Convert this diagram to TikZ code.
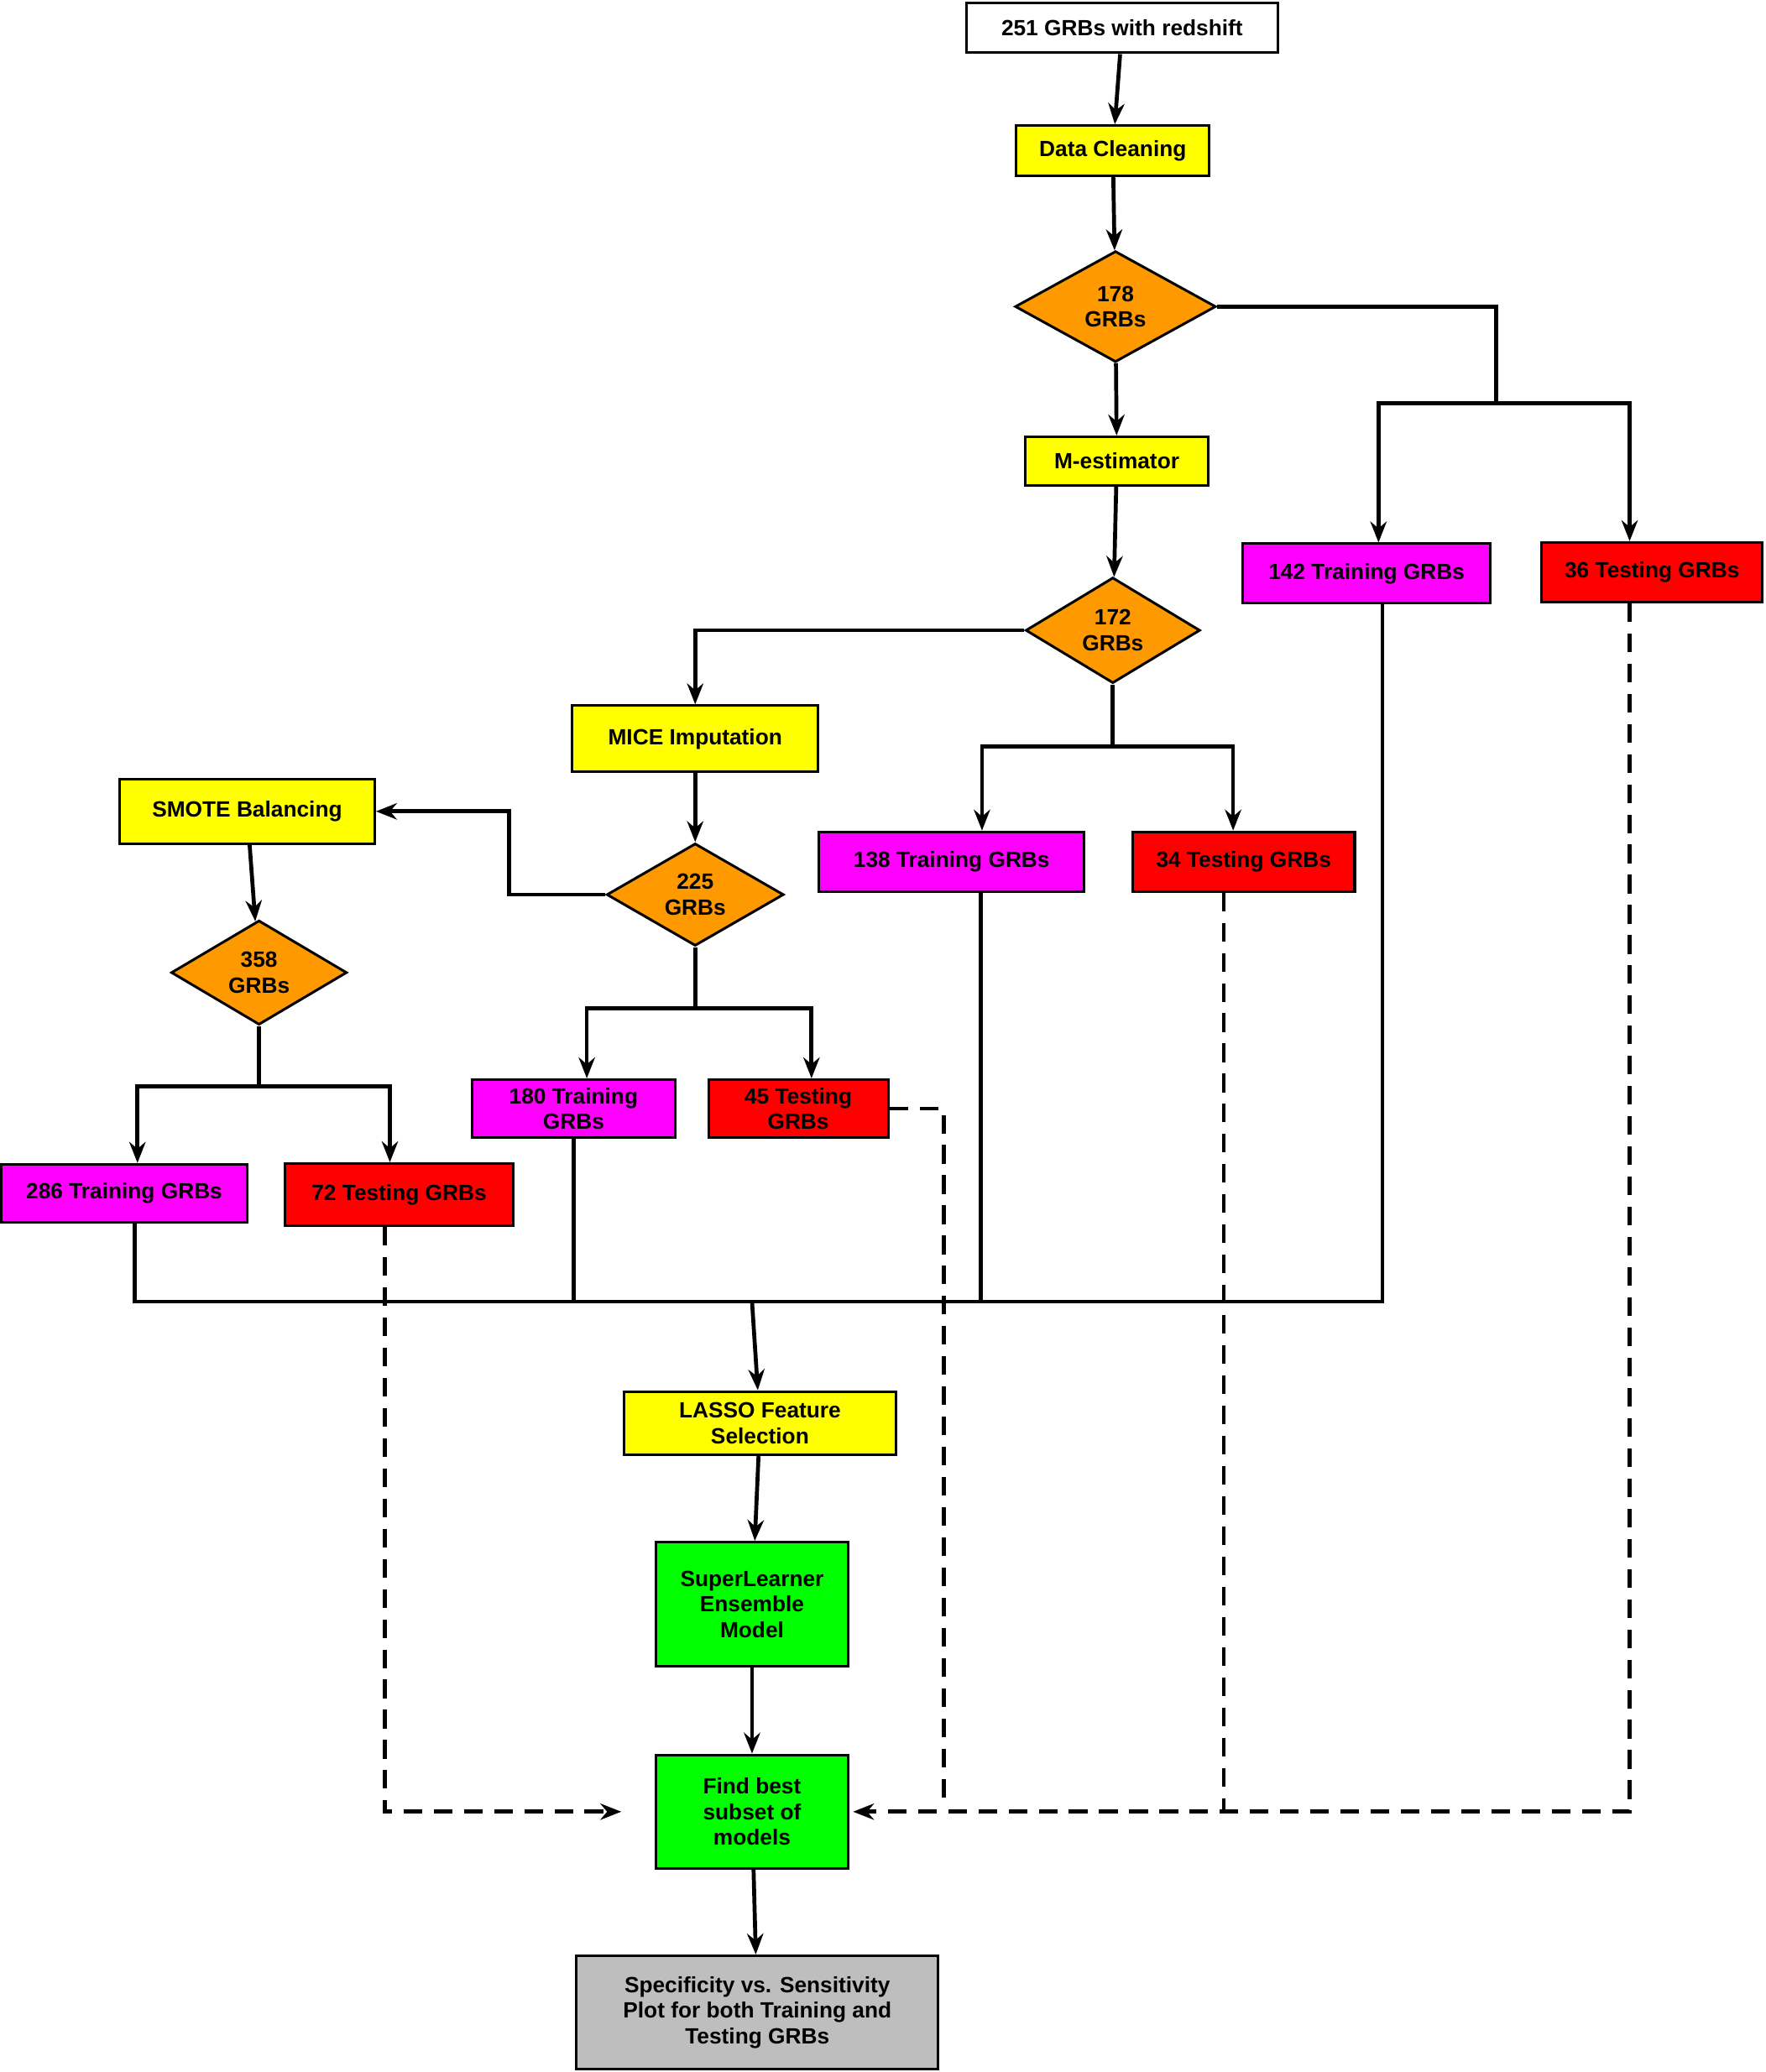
\documentclass[tikz,border=0pt]{standalone}
\usepackage{fontspec}
\setmainfont{Liberation Sans}
\usetikzlibrary{shapes.geometric, arrows.meta, positioning, calc}
\definecolor{stepYellow}{RGB}{255, 255, 0}
\definecolor{splitOrange}{RGB}{255, 153, 0}
\definecolor{trainMagenta}{RGB}{255, 0, 255}
\definecolor{testRed}{RGB}{255, 0, 0}
\definecolor{modelGreen}{RGB}{0, 255, 0}
\definecolor{resultGray}{RGB}{190, 190, 190}
\tikzset{
    box/.style={
        rectangle,
        draw=black,
        line width=1.1pt,
        align=center,
        inner sep=1pt,
        font=\fontsize{9.5}{11}\selectfont\bfseries
    },
    stage/.style={box, fill=stepYellow},
    train/.style={box, fill=trainMagenta},
    test/.style={box, fill=testRed},
    model/.style={box, fill=modelGreen},
    split/.style={
        diamond,
        draw=black,
        line width=1.1pt,
        fill=splitOrange,
        align=center,
        inner sep=0pt,
        font=\fontsize{9.5}{11}\selectfont\bfseries
    },
    flow/.style={
        line width=1.7pt,
        -{Stealth[length=9pt, width=7pt]}
    },
    link/.style={
        line width=1.7pt
    },
    testFlow/.style={
        line width=1.7pt,
        dash pattern=on 8pt off 5pt,
        -{Stealth[length=9pt, width=7pt]}
    }
}

\begin{document}
\begin{tikzpicture}[x=0.02cm, y=-0.02cm]
    \useasboundingbox (0,0) rectangle (1336,1568);

    % Main chain
    \node[box, fill=white, minimum width=4.72cm, minimum height=0.76cm] (start) at (849,21) {251 GRBs with redshift};
    \node[stage, minimum width=2.92cm, minimum height=0.76cm] (clean) at (842,114) {Data Cleaning};
    \node[split, minimum width=3.04cm, minimum height=1.68cm] (s178) at (844,232) {178\\GRBs};
    \node[stage, minimum width=2.76cm, minimum height=0.74cm] (mest) at (845,349) {M-estimator};
    \node[split, minimum width=2.64cm, minimum height=1.6cm] (s172) at (842,477) {172\\GRBs};
    \node[stage, minimum width=3.72cm, minimum height=1cm] (mice) at (526,559) {MICE Imputation};
    \node[split, minimum width=2.68cm, minimum height=1.42cm] (s225) at (526,677) {225\\GRBs};
    \node[stage, minimum width=3.86cm, minimum height=0.98cm] (smote) at (187,614) {SMOTE Balancing};
    \node[split, minimum width=2.66cm, minimum height=1.58cm] (s358) at (196,736) {358\\GRBs};

    % Training and testing sets
    \node[train, minimum width=3.74cm, minimum height=0.9cm] (tr142) at (1034,434) {142 Training GRBs};
    \node[test, minimum width=3.34cm, minimum height=0.9cm] (te36) at (1250,433) {36 Testing GRBs};
    \node[train, minimum width=4.02cm, minimum height=0.9cm] (tr138) at (720,652) {138 Training GRBs};
    \node[test, minimum width=3.36cm, minimum height=0.9cm] (te34) at (941,652) {34 Testing GRBs};
    \node[train, minimum width=3.08cm, minimum height=0.88cm] (tr180) at (434,839) {180 Training\\GRBs};
    \node[test, minimum width=2.72cm, minimum height=0.88cm] (te45) at (604,839) {45 Testing\\GRBs};
    \node[train, minimum width=3.72cm, minimum height=0.88cm] (tr286) at (94,903) {286 Training GRBs};
    \node[test, minimum width=3.46cm, minimum height=0.94cm] (te72) at (302,904) {72 Testing GRBs};

    % Model stages
    \node[stage, minimum width=4.12cm, minimum height=0.96cm] (lasso) at (575,1077) {LASSO Feature\\Selection};
    \node[model, minimum width=2.92cm, minimum height=1.88cm] (super) at (569,1214) {SuperLearner\\Ensemble\\Model};
    \node[model, minimum width=2.92cm, minimum height=1.72cm] (best) at (569,1371) {Find best\\subset of\\models};
    \node[box, fill=resultGray, minimum width=5.48cm, minimum height=1.72cm] (plot) at (573,1523) {Specificity vs. Sensitivity\\Plot for both Training and\\Testing GRBs};

    % Junctions
    \coordinate (j178) at (1132,305);
    \coordinate (j172) at (842,565);
    \coordinate (j225) at (526,763);
    \coordinate (j358) at (196,822);
    \coordinate (jSmote) at (385,614);
    \coordinate (jTrain) at (569,985);

    \draw[flow] (start) -- (clean);
    \draw[flow] (clean) -- (s178);
    \draw[flow] (s178) -- (mest);
    \draw[flow] (mest) -- (s172);

    \draw[link] (s178.east) -| (j178);
    \draw[flow] (j178) -| ([xshift=0.18cm]tr142.north);
    \draw[flow] (j178) -| ([xshift=-0.34cm]te36.north);
    \draw[flow] (s172.west) -| (mice);
    \draw[link] (s172.south) -- (j172);
    \draw[flow] (j172) -| ([xshift=0.46cm]tr138.north);
    \draw[flow] (j172) -| ([xshift=-0.16cm]te34.north);
    \draw[flow] (mice) -- (s225);
    \draw[flow] (s225.west) -| (jSmote) -- (smote.east);
    \draw[flow] (smote) -- (s358);
    \draw[link] (s358.south) -- (j358);
    \draw[flow] (j358) -| ([xshift=0.2cm]tr286.north);
    \draw[flow] (j358) -| ([xshift=-0.14cm]te72.north);
    \draw[link] (s225.south) -- (j225);
    \draw[flow] (j225) -| ([xshift=0.2cm]tr180.north);
    \draw[flow] (j225) -| ([xshift=0.2cm]te45.north);

    % Training sets into feature selection
    \draw[link] ([xshift=0.16cm]tr286.south) |- (jTrain);
    \draw[link] (tr180.south) -- (tr180.south |- jTrain);
    \draw[link] ([xshift=0.44cm]tr138.south) -- ([xshift=0.44cm]tr138.south |- jTrain);
    \draw[link] ([xshift=0.24cm]tr142.south) |- (jTrain);
    \draw[flow] (jTrain) -- (lasso);
    \draw[flow] (lasso) -- (super);
    \draw[flow] (super) -- (best);
    \draw[flow] (best) -- (plot);

    % Testing sets into model selection
    \draw[testFlow] ([xshift=-0.22cm]te72.south) |- ([xshift=-0.5cm]best.west);
    \draw[testFlow, -] (te45.east) -| ([xshift=1.42cm,yshift=0.22cm]best.east);
    \draw[testFlow, -] ([xshift=-0.3cm]te34.south) -- ([xshift=-0.3cm]te34.south |- best);
    \draw[testFlow] ([xshift=-0.34cm]te36.south) |- ([xshift=0.05cm]best.east);
\end{tikzpicture}
\end{document}
